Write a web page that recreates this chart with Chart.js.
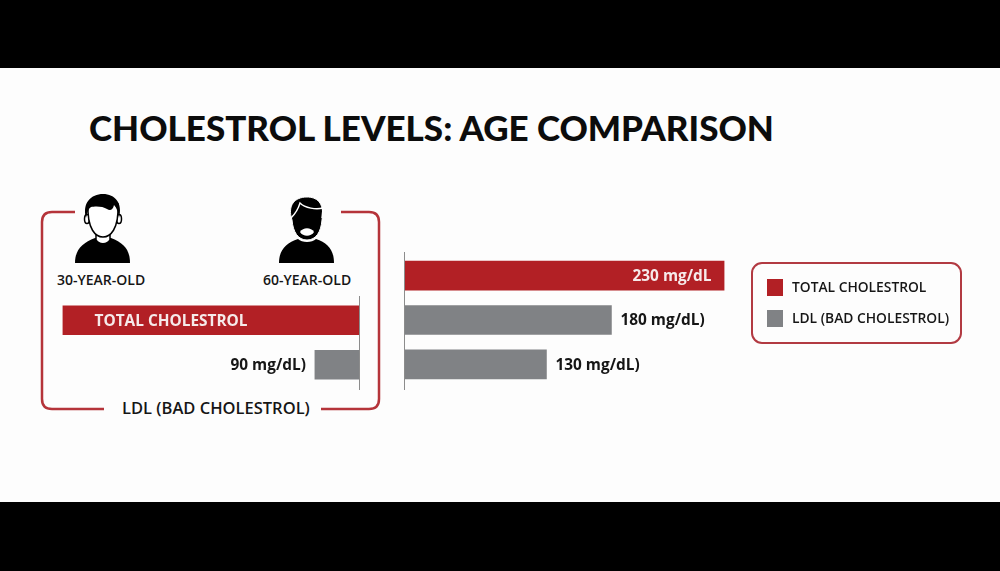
<!DOCTYPE html>
<html lang="en">
<head>
    <meta charset="UTF-8">
    <title>Cholesterol levels: age comparison</title>
    <script src="https://cdn.jsdelivr.net/npm/chart.js"></script>
    <style>
        html, body { margin: 0; width: 1000px; height: 571px; overflow: hidden; background: #000; }
        body { position: relative; font-family: "Open Sans", sans-serif; color: #161616; }
        #band { position: absolute; left: 0; top: 68px; width: 1000px; height: 434px; background: #fdfdfd; }
        canvas, #art { position: absolute; left: 0; top: 0; }
        .txt { position: absolute; white-space: nowrap; font-weight: 600; }
        h1 { position: absolute; left: 89px; top: 106px; margin: 0; font: 900 35px Lato, sans-serif; color: #0c0c0c; white-space: nowrap; }
        #legend { position: absolute; left: 751px; top: 262px; width: 207px; height: 78px; border: 2.5px solid #b23a42; border-radius: 11px; }
        .item { position: absolute; left: 14px; height: 17px; }
        .item i { position: absolute; left: 0; top: 0; width: 16px; height: 17px; }
        .item span { position: absolute; left: 25px; top: -2px; font-size: 13.8px; font-weight: 600; white-space: nowrap; }
    </style>
</head>
<body>
    <div id="band"></div>
    <h1>CHOLESTROL LEVELS: AGE COMPARISON</h1>

    <svg id="art" width="1000" height="571">
        <!-- bracket round the left panel -->
        <g fill="none" stroke="#b5343a" stroke-width="2.5">
            <path d="M75 212 H52 Q42 212 42 222 V399 Q42 409 52 409 H104"/>
            <path d="M341 212 H369 Q379 212 379 222 V399 Q379 409 369 409 H321"/>
        </g>
        <!-- younger man -->
        <path d="M75 263 C75 250 82 243 95 238 H111 C124 243 130 250 130 263 Z" fill="#000"/>
        <path d="M96 232 V240 C99 245 107 245 110 240 V232 Z" fill="#fff" stroke="#000" stroke-width="1.5"/>
        <ellipse cx="87" cy="219" rx="2.5" ry="4.5" fill="#fff" stroke="#000" stroke-width="1.5"/>
        <ellipse cx="119" cy="219" rx="2.5" ry="4.5" fill="#fff" stroke="#000" stroke-width="1.5"/>
        <path d="M88 204 C87 230 96 237 103 237 C110 237 119 230 118 204 Z" fill="#fff" stroke="#000" stroke-width="1.5"/>
        <path d="M86 218 C82 203 91 194 103 194 C115 194 123 203 119 218 C118 212 117 208 114 205 C113 210 110 211 107 209 C103 206 95 206 91 207 C88 209 87 213 86 218 Z" fill="#000"/>
        <!-- older man with beard -->
        <path d="M279 263 C279 250 286 243 298 239 C302 243 312 243 316 239 C328 243 334 250 334 263 Z" fill="#000"/>
        <path d="M292 220 C287 205 295 197 307 197 C316 197 325 202 322 220 C321 232 316 240 307 240 C298 240 293 232 292 220 Z" fill="#000" stroke="#fff" stroke-width="1"/>
        <path d="M291 218 C295 214 298 210 300 203 C305 208 316 210 323 208 L322 218" fill="none" stroke="#fff" stroke-width="1.4"/>
        <path d="M300 232 C303 227 311 227 314 232 C311 237 303 237 300 232 Z" fill="#fff"/>
    </svg>

    <div class="txt" id="age0" style="left:57px;top:270px;font-size:14px"></div>
    <div class="txt" id="age1" style="left:263px;top:270px;font-size:14px"></div>
    <div class="txt" id="ldlTitle" style="left:122px;top:396px;font-size:16.5px"></div>

    <canvas id="leftChart" width="1000" height="571"></canvas>
    <canvas id="rightChart" width="1000" height="571"></canvas>

    <div id="legend"></div>

    <script>
        const ageLabels = ["30-YEAR-OLD", "60-YEAR-OLD"];
        const seriesNames = ["TOTAL CHOLESTROL", "LDL (BAD CHOLESTROL)"];

        // left panel: total and LDL for the younger man
        const leftRows = ["total", "ldl"];
        const leftTotal = [180, null];
        const leftLdl = [null, 90];
        const leftTotalText = ["TOTAL CHOLESTROL", null];
        const leftLdlText = [null, "90 mg/dL)"];

        // right panel: one total bar and two LDL bars
        const rightRows = ["total", "ldl high", "ldl low"];
        const rightTotal = [230, null, null];
        const rightLdl = [null, 180, 130];
        const rightTotalText = ["230 mg/dL", null, null];
        const rightLdlText = [null, "180 mg/dL)", "130 mg/dL)"];

        const RED = "#b22025";
        const GRAY = "#808285";

        // value text beside the bars; the red series sits inside its bar
        const barText = {
            id: "barText",
            afterDatasetsDraw(chart, args, opts) {
                const ctx = chart.ctx;
                ctx.save();
                ctx.textBaseline = "middle";
                chart.data.datasets.forEach((ds, d) => {
                    chart.getDatasetMeta(d).data.forEach((bar, i) => {
                        const text = ds.texts[i];
                        if (!text) return;
                        const dir = bar.x > bar.base ? 1 : -1;
                        const inside = ds.label === seriesNames[0];
                        const gap = inside ? opts.inset : 9;
                        ctx.font = "700 15.4px 'Open Sans'";
                        ctx.fillStyle = inside ? "#f6eaea" : "#161616";
                        if (inside) {
                            ctx.textAlign = dir > 0 ? "right" : "left";
                            ctx.fillText(text, bar.x - dir * gap, bar.y + 1);
                        } else {
                            ctx.textAlign = dir > 0 ? "left" : "right";
                            ctx.fillText(text, bar.x + dir * gap, bar.y + 1);
                        }
                    });
                });
                ctx.restore();
            }
        };

        // thin zero line, a little longer than the plot area
        const baseLine = {
            id: "baseLine",
            afterDatasetsDraw(chart, args, opts) {
                const ctx = chart.ctx;
                const x = Math.round(chart.scales.xTotal.getBasePixel()) + 0.5;
                ctx.save();
                ctx.strokeStyle = "#8c8c8c";
                ctx.lineWidth = 1;
                ctx.beginPath();
                ctx.moveTo(x, chart.chartArea.top - opts.over[0]);
                ctx.lineTo(x, chart.chartArea.bottom + opts.over[1]);
                ctx.stroke();
                ctx.restore();
            }
        };

        function makePanel(id, rows, total, ldl, totalText, ldlText, cfg) {
            const hidden = { display: false, reverse: cfg.reverse };
            return new Chart(document.getElementById(id).getContext("2d"), {
                type: "bar",
                data: {
                    labels: rows,
                    datasets: [
                        { label: seriesNames[0], data: total, texts: totalText, backgroundColor: RED, xAxisID: "xTotal", grouped: false, barThickness: 29 },
                        { label: seriesNames[1], data: ldl, texts: ldlText, backgroundColor: GRAY, xAxisID: "xLdl", grouped: false, barThickness: 29 }
                    ]
                },
                options: {
                    indexAxis: "y",
                    responsive: false,
                    animation: false,
                    layout: { padding: cfg.padding },
                    plugins: {
                        legend: { display: false },
                        tooltip: { enabled: false },
                        barText: { inset: cfg.inset },
                        baseLine: { over: cfg.over }
                    },
                    scales: {
                        y: { display: false },
                        xTotal: { ...hidden, min: cfg.totalRange[0], max: cfg.totalRange[1] },
                        xLdl: { ...hidden, min: cfg.ldlRange[0], max: cfg.ldlRange[1] }
                    }
                },
                plugins: [barText, baseLine]
            });
        }

        makePanel("leftChart", leftRows, leftTotal, leftLdl, leftTotalText, leftLdlText, {
            reverse: true,
            padding: { left: 62.5, right: 641, top: 298, bottom: 184 },
            over: [2, 3],
            inset: 32,
            totalRange: [0, 180],
            ldlRange: [0, 605]
        });

        makePanel("rightChart", rightRows, rightTotal, rightLdl, rightTotalText, rightLdlText, {
            reverse: false,
            padding: { left: 404, right: 275.5, top: 253.5, bottom: 184.5 },
            over: [1.5, 3.5],
            inset: 13,
            totalRange: [0, 230],
            ldlRange: [20.4, 267]
        });

        document.getElementById("age0").textContent = ageLabels[0];
        document.getElementById("age1").textContent = ageLabels[1];
        document.getElementById("ldlTitle").textContent = seriesNames[1];

        // legend box
        const legend = document.getElementById("legend");
        [RED, GRAY].forEach((c, i) => {
            const item = document.createElement("div");
            item.className = "item";
            item.style.top = (15 + i * 31) + "px";
            item.innerHTML = `<i style="background:${c}"></i><span>${seriesNames[i]}</span>`;
            legend.appendChild(item);
        });
    </script>
</body>
</html>
